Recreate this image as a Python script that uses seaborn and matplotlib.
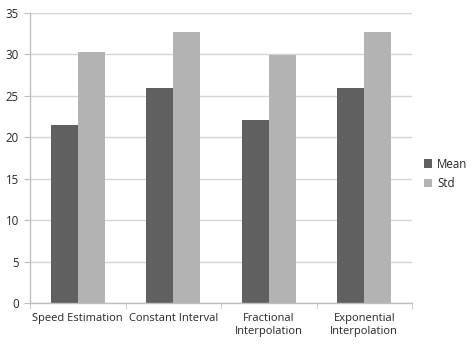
import matplotlib
matplotlib.use("Agg")
import matplotlib.pyplot as plt
import seaborn as sns
import pandas as pd
import numpy as np

categories = ["Speed Estimation", "Constant Interval", "Fractional\nInterpolation", "Exponential\nInterpolation"]
mean_vals = [21.5, 26.0, 22.1, 25.9]
std_vals = [30.25, 32.75, 29.9, 32.75]
series = ["Mean", "Std"]
colors = ["#606060", "#b3b3b3"]

df = pd.DataFrame({
    "category": categories * 2,
    "value": mean_vals + std_vals,
    "series": ["Mean"] * len(categories) + ["Std"] * len(categories),
})

sns.set_style("white")
plt.rcParams['font.family'] = ['Open Sans', 'DejaVu Sans']

fig = plt.figure(figsize=(4.74, 3.51), dpi=100)
ax = fig.add_axes([30/474, 1-303/351, (412-30)/474, (303-13)/351])

sns.barplot(data=df, x="category", y="value", hue="series", palette=colors,
            width=0.57, ax=ax, saturation=1, legend=True, linewidth=0, edgecolor="none")

ax.set_ylim(0, 35)
ax.set_xlim(-0.5, 3.5)
ax.set_yticks(np.arange(0, 36, 5))
ax.yaxis.grid(True, color="#d4d4d4", linewidth=1)
ax.set_axisbelow(True)
ax.set_xlabel("")
ax.set_ylabel("")

for s in ["top", "right"]:
    ax.spines[s].set_visible(False)
for s in ["left", "bottom"]:
    ax.spines[s].set_color("#bfbfbf")
    ax.spines[s].set_linewidth(1)

ax.tick_params(axis="y", length=4, color="#bfbfbf", labelsize=8.3, pad=4, left=True)
ax.tick_params(axis="x", which="major", length=0, labelsize=8, pad=7)
ax.set_xticks(np.arange(-0.5, 3.6, 1), minor=True)
ax.tick_params(axis="x", which="minor", length=4, color="#bfbfbf", bottom=True)
for t in ax.get_xticklabels():
    t.set_linespacing(1.3)

h, l = ax.get_legend_handles_labels()
ax.get_legend().remove()
fig.legend(h, l, loc="center left", bbox_to_anchor=(414/474, 1-174/351), frameon=False,
           fontsize=8.3, handlelength=0.7, handleheight=0.7, handletextpad=0.4, labelspacing=0.6)

fig.savefig("out.png", dpi=100)
